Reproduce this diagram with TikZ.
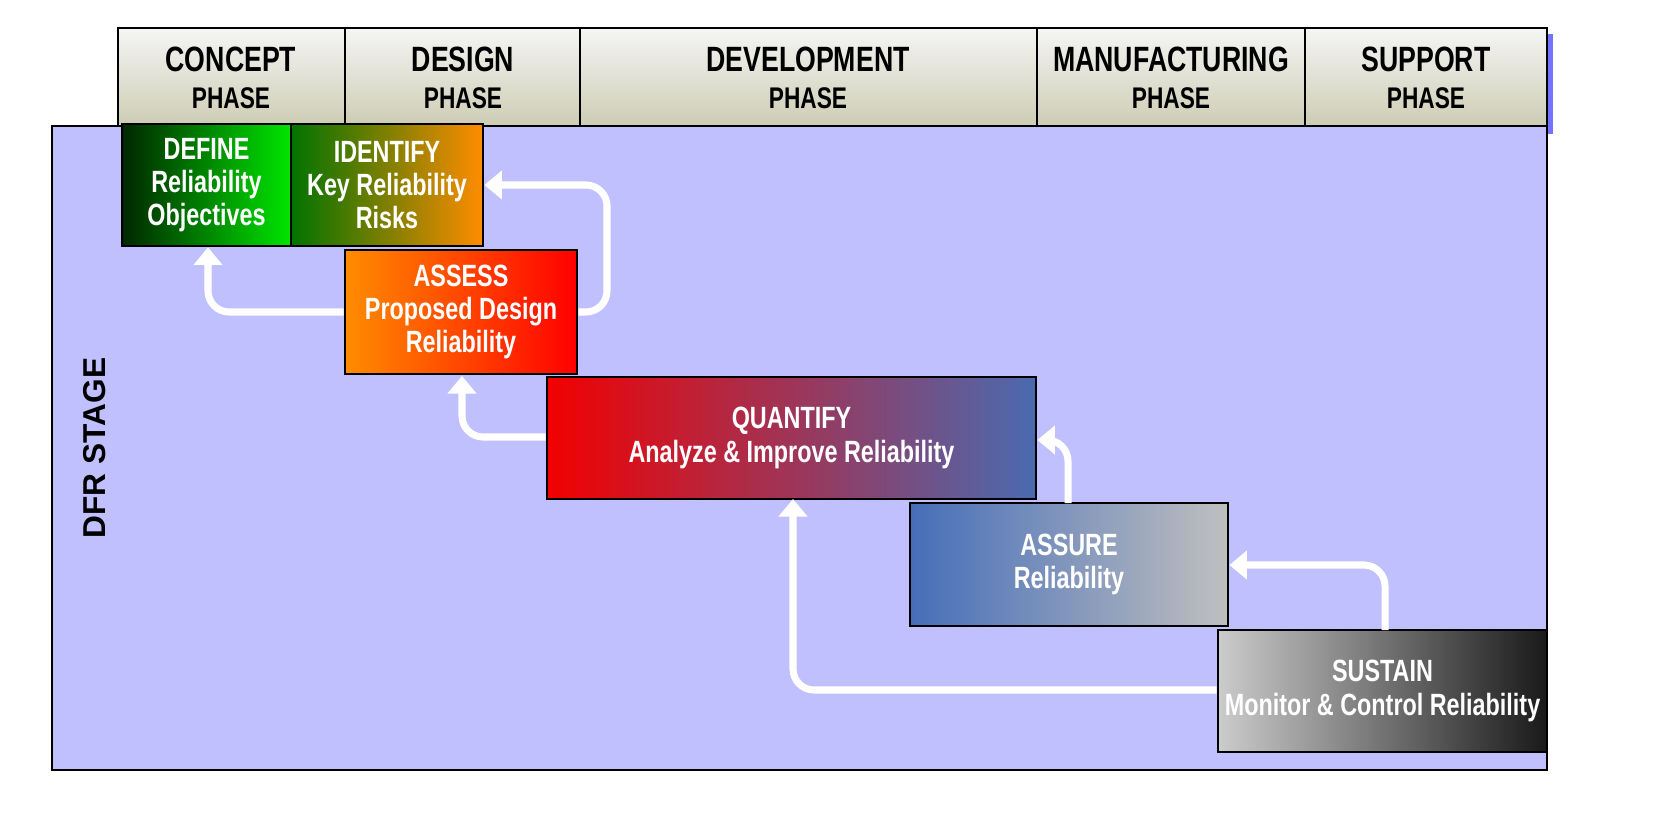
\documentclass[tikz,border=0pt]{standalone}
\usepackage{fontspec}
\newfontfamily\nar[FakeStretch=0.76]{Liberation Sans}
\newfontfamily\lsans{Liberation Sans}
\usetikzlibrary{arrows.meta}
\definecolor{lav}{HTML}{C0C0FF}
\tikzset{
 stagebox/.style={draw=black,line width=1.6pt,shading=axis,shading angle=90,text=white,font=\nar\bfseries\fontsize{17.5}{19}\selectfont,align=center,inner sep=1pt},
 hdr/.style={font=\nar\bfseries\fontsize{20}{21}\selectfont,align=center,text=black},
 flow/.style={draw=white,line width=4pt,rounded corners=12pt,-{Triangle[length=10pt,width=16pt]}}
}
\begin{document}
\begin{tikzpicture}[x=0.02cm,y=-0.02cm]
% header
\fill[blue!40!lav] (122,34) rectangle (1553,134);
\shade[top color=gray!8,bottom color=olive!25!gray!40,draw=black,line width=1.6pt] (118,28) rectangle (1547,128);
\foreach \x in {345,580,1037,1305} \draw[line width=1.6pt] (\x,28) -- (\x,128);
\node[hdr] (h1) at (231,78) {CONCEPT\\{\fontsize{17}{21}\selectfont PHASE}};
\node[hdr] (h2) at (463,78) {DESIGN\\{\fontsize{17}{21}\selectfont PHASE}};
\node[hdr] (h3) at (808,78) {DEVELOPMENT\\{\fontsize{17}{21}\selectfont PHASE}};
\node[hdr] (h4) at (1171,78) {MANUFACTURING\\{\fontsize{17}{21}\selectfont PHASE}};
\node[hdr] (h5) at (1426,78) {SUPPORT\\{\fontsize{17}{21}\selectfont PHASE}};
% main area
\fill[lav,draw=black,line width=1.6pt] (52,126) rectangle (1547,770);
\node[rotate=90,font=\lsans\bfseries\fontsize{18}{20}\selectfont] (dfr) at (95,448) {DFR STAGE};
% stage boxes
\node[stagebox,left color=black!85!green,right color=green!90!black,minimum width=169*0.02cm,minimum height=122*0.02cm] (def) at (206.5,185) {DEFINE\\Reliability\\Objectives};
\node[stagebox,left color=green!45!black,right color=orange!90!yellow,minimum width=192*0.02cm,minimum height=122*0.02cm] (ide) at (387,185) {IDENTIFY\\Key Reliability\\Risks};
\node[stagebox,left color=orange!90!yellow,right color=red,minimum width=232*0.02cm,minimum height=124*0.02cm] (ass) at (461,312) {ASSESS\\Proposed Design\\Reliability};
\node[stagebox,left color=red!95!black,right color={rgb,255:red,74;green,106;blue,176},minimum width=489*0.02cm,minimum height=122*0.02cm] (qua) at (791.5,438) {QUANTIFY\\Analyze \& Improve Reliability};
\node[stagebox,left color={rgb,255:red,70;green,110;blue,185},right color=gray!50,minimum width=318*0.02cm,minimum height=123*0.02cm] (asu) at (1069,564.5) {ASSURE\\Reliability};
\node[stagebox,left color=gray!40,right color=black!90,minimum width=329*0.02cm,minimum height=122*0.02cm] (sus) at (1382.5,691) {SUSTAIN\\Monitor \& Control Reliability};
% arrows
\draw[flow] (ass.west |- 0,312) -| (def.south -| 208,0);
\draw[flow] (ass.east |- 0,312) -- (607,312) -- (607,185) -- (ide.east);
\draw[flow] (qua.west |- 0,437) -| (462,376);
\draw[flow] (1068,503) -- (1068,440) -- (qua.east |- 0,440);
\draw[flow] (1385,630) -- (1385,565) -- (asu.east |- 0,565);
\draw[flow] (sus.west |- 0,690) -| (793,499);
\pgfresetboundingbox
\useasboundingbox (0,0) rectangle (1672,832);
\end{tikzpicture}
\end{document}
